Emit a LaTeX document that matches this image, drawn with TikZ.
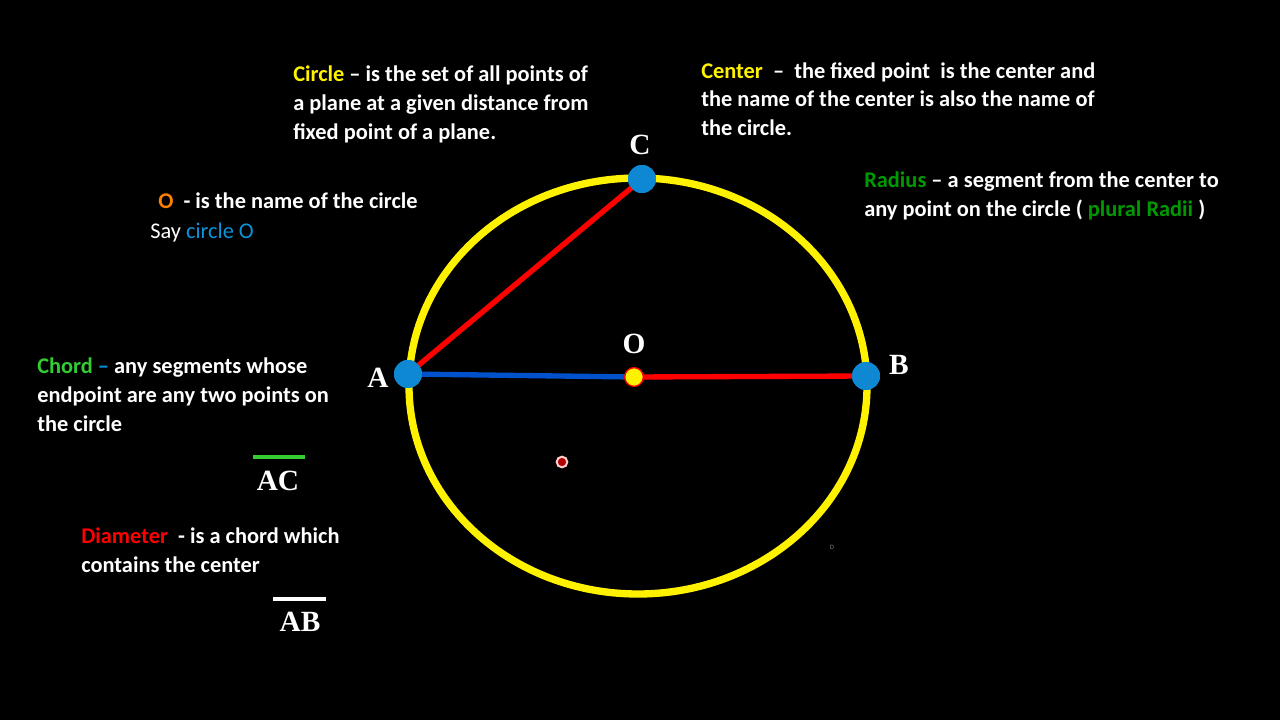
\documentclass[tikz,border=0pt]{standalone}
\usepackage{fontspec}
\setmainfont{Carlito}
\newfontfamily\serifb{Liberation Serif}
\begin{document}
\begin{tikzpicture}[x=0.75pt,y=-0.75pt,
  txt/.style={anchor=north west,align=left,text=white,font=\fontsize{16.8}{21.5}\selectfont\bfseries,inner sep=0},
  lbl/.style={text=white,font=\serifb\fontsize{22}{24}\selectfont\bfseries,inner sep=0},
  pt/.style={circle,fill=cyan!70!blue,inner sep=0,minimum size=21}]
\fill[black] (0,0) rectangle (1280,720);
\useasboundingbox (0,0) rectangle (1280,720);
\draw[yellow,line width=5.5pt] (638,386) ellipse [x radius=229,y radius=208];
\coordinate (Oc) at (634,377);
\node[pt] (A) at (408,374) {};
\node[pt] (B) at (866,376) {};
\node[pt] (C) at (642,179) {};
\draw[red,line width=4pt] (A.center) -- (C.center);
\draw[blue!60!cyan!80!black,line width=4pt] (A.center) -- (Oc);
\draw[red,line width=4pt] (Oc) -- (B.center);
\node[pt] at (408,374) {};
\node[pt] at (866,376) {};
\node[pt] at (642,179) {};
\node[circle,fill=yellow,draw=red,line width=1pt,inner sep=0,minimum size=14] (O) at (Oc) {};
\node[lbl] at (378,378) {A};
\node[lbl] at (899,365) {B};
\node[lbl] at (640,145) {C};
\node[lbl] at (634,344) {O};
\node[txt] at (293,66) {\textcolor{yellow}{Circle} -- is the set of all points of\\a plane at a given distance from\\fixed point of a plane.};
\node[txt] at (701,62) {\textcolor{yellow}{Center}\ \ --\ \ the fixed point\ \ is the center and\\the name of the center is also the name of\\the circle.};
\node[txt] at (864,172) {\textcolor{green!60!black}{Radius} -- a segment from the center to\\any point on the circle ( \textcolor{green!60!black}{plural Radii} )};
\node[txt] at (158,193) {\textcolor{orange}{O}\ \ - is the name of the circle};
\node[txt,font=\fontsize{16.8}{21.5}\selectfont] at (150,223) {Say \textcolor{cyan!80!blue}{circle O}};
\node[txt] at (37,358) {\textcolor{green!60!gray}{Chord} \textcolor{cyan!80!blue}{--} any segments whose\\endpoint are any two points on\\the circle};
\node[txt] at (81,528) {\textcolor{red}{Diameter}\ \ - is a chord which\\contains the center};
\node[lbl] (AC) at (278,481) {AC};
\draw[green!60!gray,line width=3pt] (253,457) -- (305,457);
\node[lbl] (AB) at (300,622) {AB};
\draw[white,line width=3pt] (273,599) -- (326,599);
\node[circle,fill=red!70!black,draw=white!80!red,line width=1.5pt,inner sep=0,minimum size=8] (cur) at (562,462) {};
\node[text=gray,font=\tiny,inner sep=0] (D) at (832,547) {D};
\end{tikzpicture}
\end{document}
